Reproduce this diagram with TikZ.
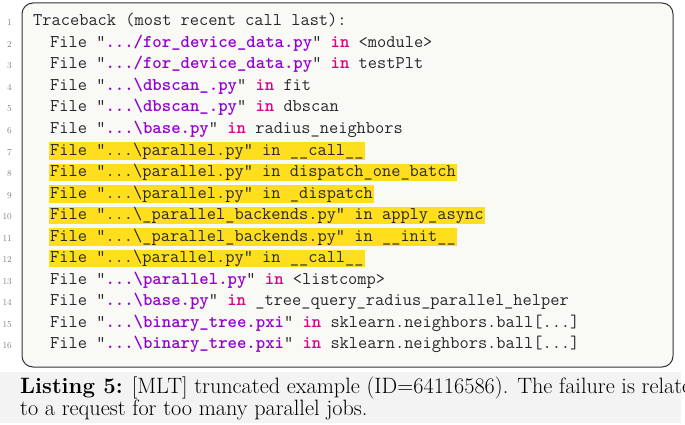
\documentclass[tikz,border=0pt]{standalone}
\usepackage{fontspec}
\definecolor{strc}{RGB}{148,0,211}
\definecolor{kwc}{RGB}{222,0,130}
\definecolor{txc}{RGB}{40,40,40}
\definecolor{hlc}{RGB}{255,222,30}
\definecolor{boxbg}{RGB}{249,249,246}
\definecolor{capbg}{RGB}{243,243,243}
\newcommand{\Sq}[1]{"\textcolor{strc}{\bfseries #1}"}
\newcommand{\Kin}{\textcolor{kwc}{\bfseries in}}
\newcommand{\BS}{\textbackslash}
\begin{document}
\begin{tikzpicture}[x=1pt,y=-1pt,
  code/.style={anchor=base west,inner sep=0pt,text=txc,font=\ttfamily\fontsize{17.9}{21.5}\selectfont},
  hl/.style={code,fill=hlc,inner xsep=1.5pt,inner ysep=0pt,text height=13pt,text depth=4.5pt},
  lnum/.style={anchor=base east,inner sep=0pt,text=gray,font=\fontsize{9}{10}\selectfont},
  capt/.style={anchor=base west,inner sep=0pt,font=\fontsize{22.2}{22}\selectfont}]
\useasboundingbox (0,0) rectangle (685,425);
\draw[black!80,line width=1pt,fill=boxbg,rounded corners=11pt] (22,3) rectangle (673,367);
\fill[capbg] (0,372) rectangle (681,423);
\foreach \i in {1,...,16} \node[lnum] (n\i) at (12,{26+(\i-1)*21.5}) {\i};
\node[code] (l1) at (33,26) {Traceback (most recent call last):};
\node[code] (l2) at (50,47.5) {File \Sq{.../for\_device\_data.py} \Kin{} <module>};
\node[code] (l3) at (50,69) {File \Sq{.../for\_device\_data.py} \Kin{} testPlt};
\node[code] (l4) at (50,90.5) {File \Sq{...\BS dbscan\_.py} \Kin{} fit};
\node[code] (l5) at (50,112) {File \Sq{...\BS dbscan\_.py} \Kin{} dbscan};
\node[code] (l6) at (50,133.5) {File \Sq{...\BS base.py} \Kin{} radius\_neighbors};
\node[hl] (l7) at (48.5,155) {File "...\BS parallel.py" in \_\_call\_\_};
\node[hl] (l8) at (48.5,176.5) {File "...\BS parallel.py" in dispatch\_one\_batch};
\node[hl] (l9) at (48.5,198) {File "...\BS parallel.py" in \_dispatch};
\node[hl] (l10) at (48.5,219.5) {File "...\BS\_parallel\_backends.py" in apply\_async};
\node[hl] (l11) at (48.5,241) {File "...\BS\_parallel\_backends.py" in \_\_init\_\_};
\node[hl] (l12) at (48.5,262.5) {File "...\BS parallel.py" in \_\_call\_\_};
\node[code] (l13) at (50,284) {File \Sq{...\BS parallel.py} \Kin{} <listcomp>};
\node[code] (l14) at (50,305.5) {File \Sq{...\BS base.py} \Kin{} \_tree\_query\_radius\_parallel\_helper};
\node[code] (l15) at (50,327) {File \Sq{...\BS binary\_tree.pxi} \Kin{} sklearn.neighbors.ball[...]};
\node[code] (l16) at (50,348.5) {File \Sq{...\BS binary\_tree.pxi} \Kin{} sklearn.neighbors.ball[...]};
\node[capt] (cap1) at (20,393) {\textbf{Listing 5:} [MLT] truncated example (ID=64116586). The failure is related};
\node[capt] (cap2) at (20,415.5) {to a request for too many parallel jobs.};
\end{tikzpicture}
\end{document}
